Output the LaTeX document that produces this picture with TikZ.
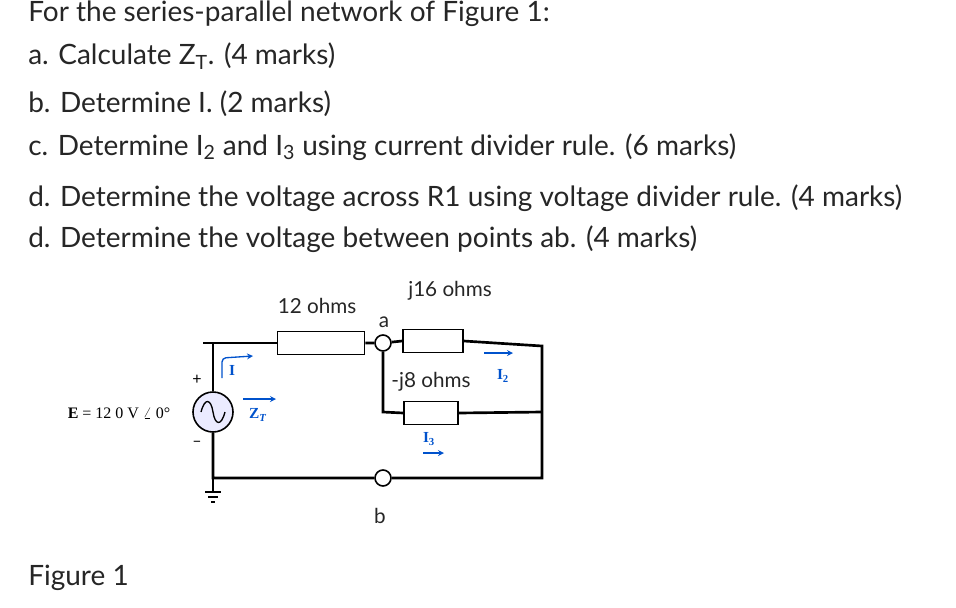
\documentclass[tikz,border=0pt]{standalone}
\usepackage{fontspec}
\setmainfont{Lato}
\newfontfamily\serifE{Liberation Serif}
\begin{document}
\begin{tikzpicture}[x=0.75pt,y=-0.75pt,
  q/.style={anchor=west,inner sep=0,text=black!85,font=\fontsize{21}{24}\selectfont},
  lbl/.style={inner sep=0,text=black!85,font=\fontsize{15.5}{18}\selectfont},
  res/.style={draw,line width=1.2pt,fill=white,minimum width=#1*0.75pt,minimum height=17pt,inner sep=0},
  w/.style={line width=2pt},
  bl/.style={draw=blue!60!cyan!80!black,line width=1pt,-stealth},
  bt/.style={text=blue!60!cyan!80!black,inner sep=0,font=\serifE\bfseries\fontsize{11.5}{12}\selectfont},
  term/.style={circle,draw,line width=1.2pt,fill=white,minimum width=9pt,minimum height=12pt,inner sep=0}]
\useasboundingbox (0,0) rectangle (956,607);
\node[q] (t1) at (28,14) {For the series-parallel network of Figure 1:};
\node[q] (t2) at (28,56) {a. Calculate Z\textsubscript{T}. (4 marks)};
\node[q] (t3) at (28,104) {b. Determine I. (2 marks)};
\node[q] (t4) at (28,147) {c. Determine I\textsubscript{2} and I\textsubscript{3} using current divider rule. (6 marks)};
\node[q] (t5) at (28,198) {d. Determine the voltage across R1 using voltage divider rule. (4 marks)};
\node[q] (t6) at (28,239) {d. Determine the voltage between points ab. (4 marks)};
\node[q] (fig) at (28,578) {Figure 1};
% nodes
\coordinate (tl) at (213,343);
\coordinate (bl) at (213,478);
\coordinate (tr) at (542,346);
\coordinate (mr) at (542,412);
\coordinate (br) at (542,478);
\coordinate (am) at (383,412);
\node[circle,draw,line width=1.2pt,fill=blue!8,minimum size=30pt,inner sep=0] (src) at (213,412) {};
\draw[line width=1pt] (201,412) .. controls (205,397) and (211,399) .. (213,412) .. controls (215,425) and (221,427) .. (225,412);
\node[res=87] (r12) at (321,343) {};
\node[res=60] (rj16) at (433,341) {};
\node[res=54] (rj8) at (431,413) {};
\node[term] (a) at (383,343) {};
\node[term] (b) at (383,478) {};
\draw[w] (src) -- (tl) -- (r12.west);
\draw[w] (203,343) -- (tl);
\draw[w] (r12.east) -- (a) -- (rj16.west);
\draw[w] (rj16.east) -- (tr) -- (mr) -- (br) -- (b) -- (bl) -- (src);
\draw[w] (a) -- (am) -- (rj8.west);
\draw[w] (rj8.east) -- (mr);
% ground
\coordinate (g) at (213,492);
\draw[w] (bl) -- (g);
\draw[line width=1.5pt] (205,492) -- (221,492) (208,497) -- (218,497) (211,502) -- (215,502);
% labels
\node[lbl] (l12) at (317,306) {12 ohms};
\node[lbl] (l16) at (450,291) {j16 ohms};
\node[lbl] (la) at (384,322) {a};
\node[lbl] (l8) at (431,382) {-j8 ohms};
\node[lbl] (lb) at (380,516) {b};
\node[font=\serifE\fontsize{12}{13}\selectfont,inner sep=0] (lE) at (119,413) {\textbf{E} = 12 0 V $\angle$ 0°};
\node[inner sep=0,font=\fontsize{12}{12}\selectfont] (plus) at (197,380) {+};
\node[inner sep=0,font=\fontsize{12}{12}\selectfont] (minus) at (197,444) {--};
% current arrows
\coordinate (i0) at (222,378);
\coordinate (i1) at (222,358);
\coordinate (i2) at (253,356);
\draw[bl,rounded corners=3pt] (i0) -- (i1) -- (i2);
\node[bt] (lI) at (232,370) {I};
\coordinate (z0) at (243,399); \coordinate (z1) at (276,399);
\draw[bl] (z0) -- (z1);
\node[bt] (lZ) at (258,415) {Z\textsubscript{\textit{T}}};
\coordinate (p0) at (484,353); \coordinate (p1) at (513,353);
\draw[bl] (p0) -- (p1);
\node[bt] (lI2) at (503,376) {I\textsubscript{2}};
\coordinate (s0) at (423,453); \coordinate (s1) at (444,453);
\draw[bl] (s0) -- (s1);
\node[bt] (lI3) at (429,439) {I\textsubscript{3}};
\end{tikzpicture}
\end{document}
